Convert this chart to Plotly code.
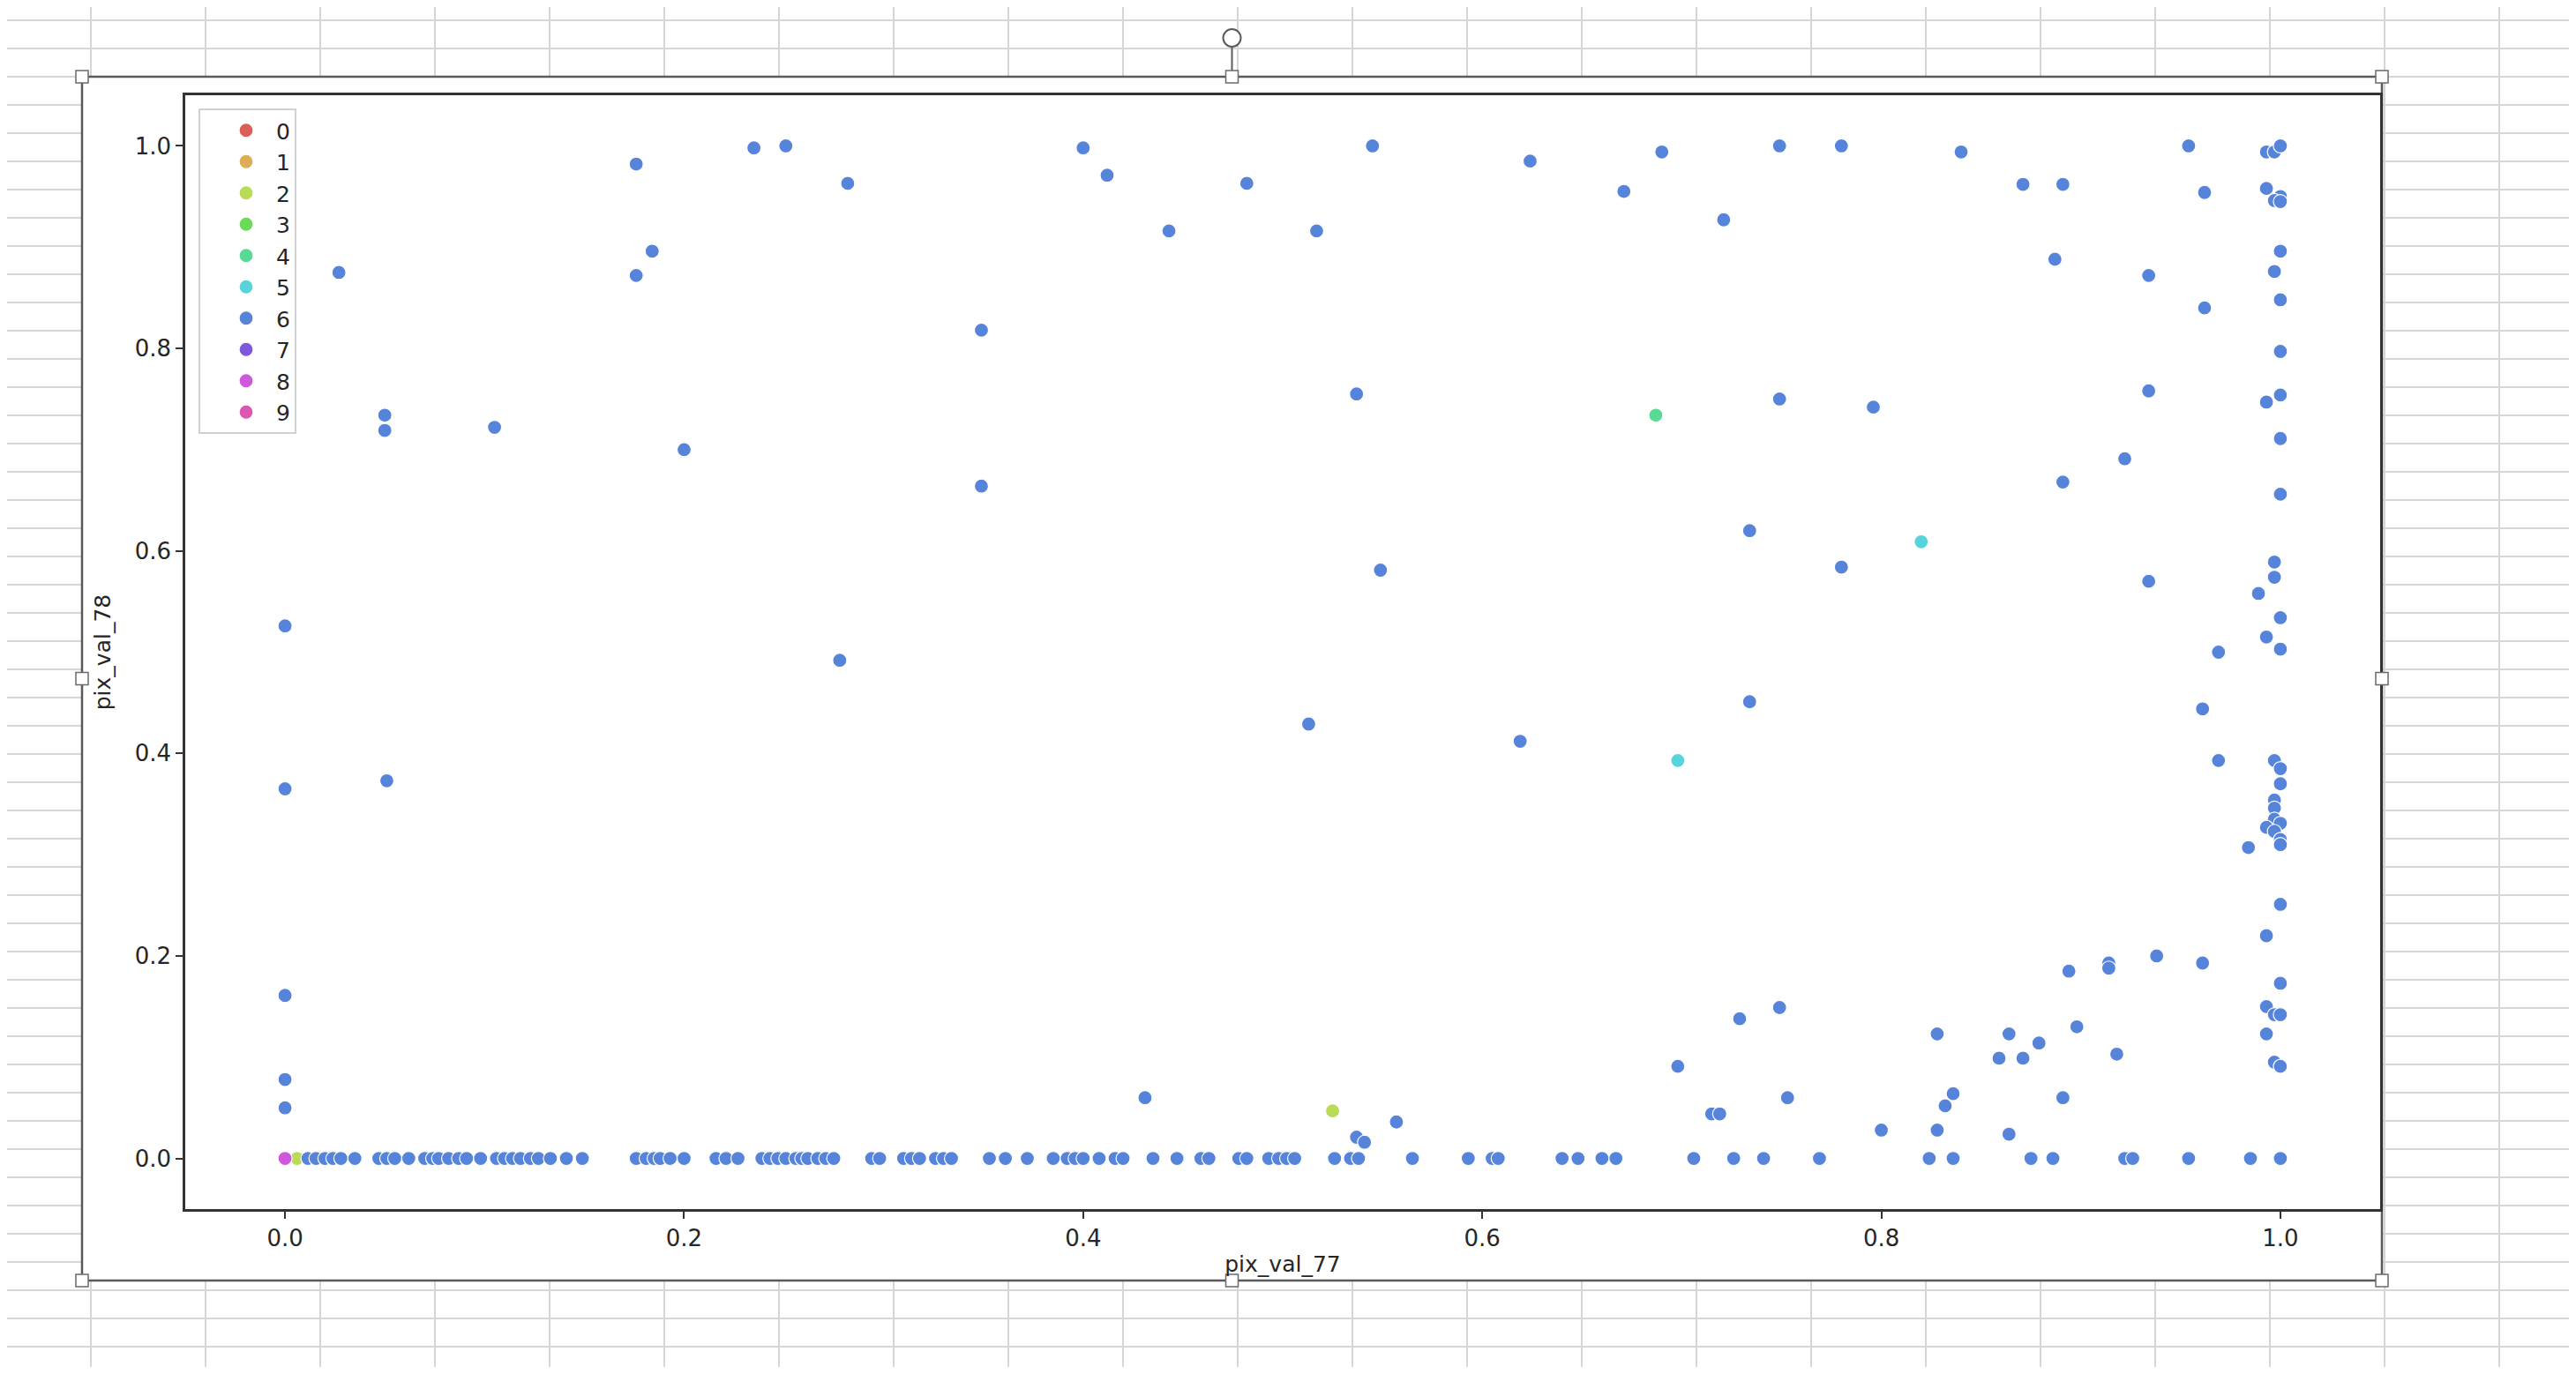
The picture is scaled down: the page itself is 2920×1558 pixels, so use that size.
import plotly.graph_objects as go

# ---------------- data ----------------
classes = ["0", "1", "2", "3", "4", "5", "6", "7", "8", "9"]
class_colors = ["#db5f57", "#dbae57", "#b9db57", "#69db57", "#57db94",
                "#57d3db", "#5784db", "#7e57db", "#ce57db", "#db57b0"]

tick_vals = [0.0, 0.2, 0.4, 0.6, 0.8, 1.0]
tick_text = ["0.0", "0.2", "0.4", "0.6", "0.8", "1.0"]

# class 6 points lying on pix_val_78 == 0
c6_zero_x = [0.0115, 0.0155, 0.020, 0.024, 0.028, 0.035, 0.047, 0.051, 0.055, 0.062,
             0.070, 0.074, 0.077, 0.082, 0.087, 0.091, 0.098, 0.106, 0.110, 0.114,
             0.118, 0.123, 0.127, 0.133, 0.141, 0.149, 0.176, 0.181, 0.185, 0.188,
             0.193, 0.200, 0.216, 0.221, 0.227, 0.239, 0.243, 0.247, 0.251, 0.256,
             0.259, 0.262, 0.267, 0.271, 0.275, 0.294, 0.298, 0.310, 0.314, 0.318,
             0.326, 0.330, 0.334, 0.353, 0.361, 0.372, 0.385, 0.392, 0.396, 0.400,
             0.408, 0.416, 0.420, 0.435, 0.447, 0.459, 0.463, 0.478, 0.482, 0.493,
             0.498, 0.502, 0.506, 0.526, 0.534, 0.538, 0.565, 0.593, 0.605, 0.608,
             0.640, 0.648, 0.660, 0.667, 0.706, 0.726, 0.741, 0.769, 0.824, 0.836,
             0.875, 0.886, 0.922, 0.926, 0.954, 0.985, 1.000]

# class 6 points off the zero line
c6_x = [0.0, 0.0, 0.0, 0.0, 0.0,
        0.027, 0.050, 0.050, 0.051, 0.105,
        0.176, 0.176, 0.184, 0.200, 0.235, 0.251,
        0.282, 0.278, 0.349, 0.349, 0.400, 0.412,
        0.443, 0.431, 0.482, 0.517, 0.513,
        0.545, 0.537, 0.549, 0.537, 0.541, 0.557,
        0.624, 0.619, 0.671, 0.690, 0.698,
        0.721, 0.734, 0.734, 0.729, 0.715, 0.719,
        0.749, 0.749, 0.749, 0.753,
        0.780, 0.780, 0.796, 0.800,
        0.840, 0.828, 0.828, 0.832, 0.836,
        0.859, 0.864, 0.871, 0.879, 0.864,
        0.871, 0.891, 0.887, 0.891, 0.891,
        0.894, 0.898, 0.914, 0.914, 0.918, 0.922,
        0.934, 0.934, 0.934, 0.938,
        0.954, 0.962, 0.962, 0.961, 0.961,
        0.969, 0.969, 0.984,
        0.993, 0.997, 1.000,
        0.993, 1.000, 0.997, 1.000,
        1.000, 0.997, 1.000, 1.000,
        1.000, 0.993, 1.000, 1.000,
        0.997, 0.997, 0.989, 1.000, 0.993, 1.000,
        0.997, 1.000, 1.000, 0.997, 0.997, 0.997, 1.000, 0.993, 0.997, 1.000, 1.000,
        1.000, 0.993, 1.000, 0.993, 0.997, 1.000, 0.993, 0.997, 1.000]
c6_y = [0.526, 0.365, 0.161, 0.078, 0.050,
        0.875, 0.734, 0.719, 0.373, 0.722,
        0.982, 0.872, 0.896, 0.700, 0.998, 1.000,
        0.963, 0.492, 0.818, 0.664, 0.998, 0.971,
        0.916, 0.060, 0.963, 0.916, 0.429,
        1.000, 0.755, 0.581, 0.021, 0.016, 0.036,
        0.985, 0.412, 0.955, 0.994, 0.091,
        0.927, 0.620, 0.451, 0.138, 0.044, 0.044,
        1.000, 0.750, 0.149, 0.060,
        1.000, 0.584, 0.742, 0.028,
        0.994, 0.123, 0.028, 0.052, 0.064,
        0.099, 0.123, 0.099, 0.114, 0.024,
        0.962, 0.962, 0.888, 0.668, 0.060,
        0.185, 0.130, 0.193, 0.188, 0.103, 0.691,
        0.872, 0.758, 0.570, 0.200,
        1.000, 0.954, 0.840, 0.444, 0.193,
        0.500, 0.393, 0.307,
        0.994, 0.994, 1.000,
        0.958, 0.950, 0.946, 0.945,
        0.896, 0.876, 0.848, 0.797,
        0.754, 0.747, 0.711, 0.656,
        0.589, 0.574, 0.558, 0.534, 0.515, 0.503,
        0.393, 0.385, 0.370, 0.354, 0.346, 0.335, 0.331, 0.327, 0.323, 0.315, 0.310,
        0.251, 0.220, 0.173, 0.150, 0.142, 0.142, 0.123, 0.095, 0.091]

c2_x = [0.006, 0.525]
c2_y = [0.0, 0.047]
c4_x = [0.687]
c4_y = [0.734]
c5_x = [0.698, 0.820]
c5_y = [0.393, 0.609]
c8_x = [0.0]
c8_y = [0.0]

x_title = "pix_val_77"
y_title = "pix_val_78"

# ---------------- figure ----------------
class_x = {"2": c2_x, "4": c4_x, "5": c5_x, "6": c6_zero_x + c6_x, "8": c8_x}
class_y = {"2": c2_y, "4": c4_y, "5": c5_y, "6": [0.0] * len(c6_zero_x) + c6_y, "8": c8_y}

FONT = "DejaVu Sans"
PAGE_W, PAGE_H = 2920, 1558
OFF = 8  # default body margin of the html page
W, H = PAGE_W - 2 * OFF, PAGE_H - 2 * OFF
# plot-area edges in page pixels
AX_L, AX_R, AX_T, AX_B = 210, 2698, 108, 1371
ML, MT = AX_L - OFF, AX_T - OFF
MR, MB = W - (AX_R - OFF), H - (AX_B - OFF)
PW, PH = W - ML - MR, H - MT - MB

fig = go.Figure()
for name, col in zip(classes, class_colors):
    xs = class_x.get(name, [None])
    ys = class_y.get(name, [None])
    fig.add_trace(go.Scatter(
        x=xs, y=ys, mode="markers", name=name,
        marker=dict(color=col, size=16, line=dict(color="white", width=1.2)),
    ))


def px_x(p):
    """page pixel x -> paper coordinate"""
    return (p - OFF - ML) / PW


def px_y(p):
    """page pixel y -> paper coordinate"""
    return (H - MB - (p - OFF)) / PH


shapes = []
# spreadsheet grid behind the embedded picture
grid_col = "#d6d6d6"
gx = 103
while gx < PAGE_W:
    shapes.append(dict(type="line", xref="paper", yref="paper",
                       x0=px_x(gx), x1=px_x(gx), y0=px_y(0), y1=px_y(PAGE_H),
                       line=dict(color=grid_col, width=2), layer="below"))
    gx += 130
gy = 23
while gy < PAGE_H:
    shapes.append(dict(type="line", xref="paper", yref="paper",
                       x0=px_x(0), x1=px_x(PAGE_W), y0=px_y(gy), y1=px_y(gy),
                       line=dict(color=grid_col, width=2), layer="below"))
    gy += 32
# picture frame
FL, FT, FR, FB = 93, 87, 2700, 1452
shapes.append(dict(type="rect", xref="paper", yref="paper",
                   x0=px_x(FL), x1=px_x(FR), y0=px_y(FB), y1=px_y(FT),
                   fillcolor="white", line=dict(color="#5a5a5a", width=2.5), layer="below"))
# rotate handle stem + knob
cx = (FL + FR) / 2
shapes.append(dict(type="line", xref="paper", yref="paper",
                   x0=px_x(cx), x1=px_x(cx), y0=px_y(52), y1=px_y(FT),
                   line=dict(color="#5a5a5a", width=2), layer="above"))
shapes.append(dict(type="circle", xref="paper", yref="paper",
                   x0=px_x(cx - 10), x1=px_x(cx + 10), y0=px_y(53), y1=px_y(33),
                   fillcolor="white", line=dict(color="#5a5a5a", width=2), layer="above"))
# sizing handles
cy = (FT + FB) / 2
for hx, hy in [(FL, FT), (cx, FT), (FR, FT), (FL, cy), (FR, cy), (FL, FB), (cx, FB), (FR, FB)]:
    shapes.append(dict(type="rect", xref="paper", yref="paper",
                       x0=px_x(hx - 7), x1=px_x(hx + 7), y0=px_y(hy + 7), y1=px_y(hy - 7),
                       fillcolor="white", line=dict(color="#6a6a6a", width=1.5), layer="above"))

axis_common = dict(
    range=[-0.05, 1.05], tickvals=tick_vals, ticktext=tick_text,
    showgrid=False, zeroline=False, showline=True, mirror=True,
    linecolor="#333333", linewidth=2.5, ticks="outside", ticklen=8,
    tickwidth=2, tickcolor="#333333",
    tickfont=dict(family=FONT, size=26, color="#262626"),
)

fig.update_layout(
    width=W, height=H,
    margin=dict(l=ML, r=MR, t=MT, b=MB, autoexpand=False),
    paper_bgcolor="white", plot_bgcolor="white",
    font=dict(family=FONT, size=25, color="#262626"),
    xaxis=dict(axis_common, title=dict(text=x_title, standoff=7,
                                       font=dict(family=FONT, size=25, color="#262626"))),
    yaxis=dict(axis_common, title=dict(text=y_title, standoff=20,
                                       font=dict(family=FONT, size=25, color="#262626"))),
    legend=dict(x=px_x(225), y=px_y(123), xanchor="left", yanchor="top",
                bgcolor="rgba(255,255,255,0.85)", bordercolor="#d0d0d0", borderwidth=2,
                font=dict(family=FONT, size=25, color="#262626"),
                indentation=18, itemwidth=58, tracegroupgap=0, itemsizing="trace"),
    shapes=shapes,
    showlegend=True,
)

fig.write_html("out.html")
